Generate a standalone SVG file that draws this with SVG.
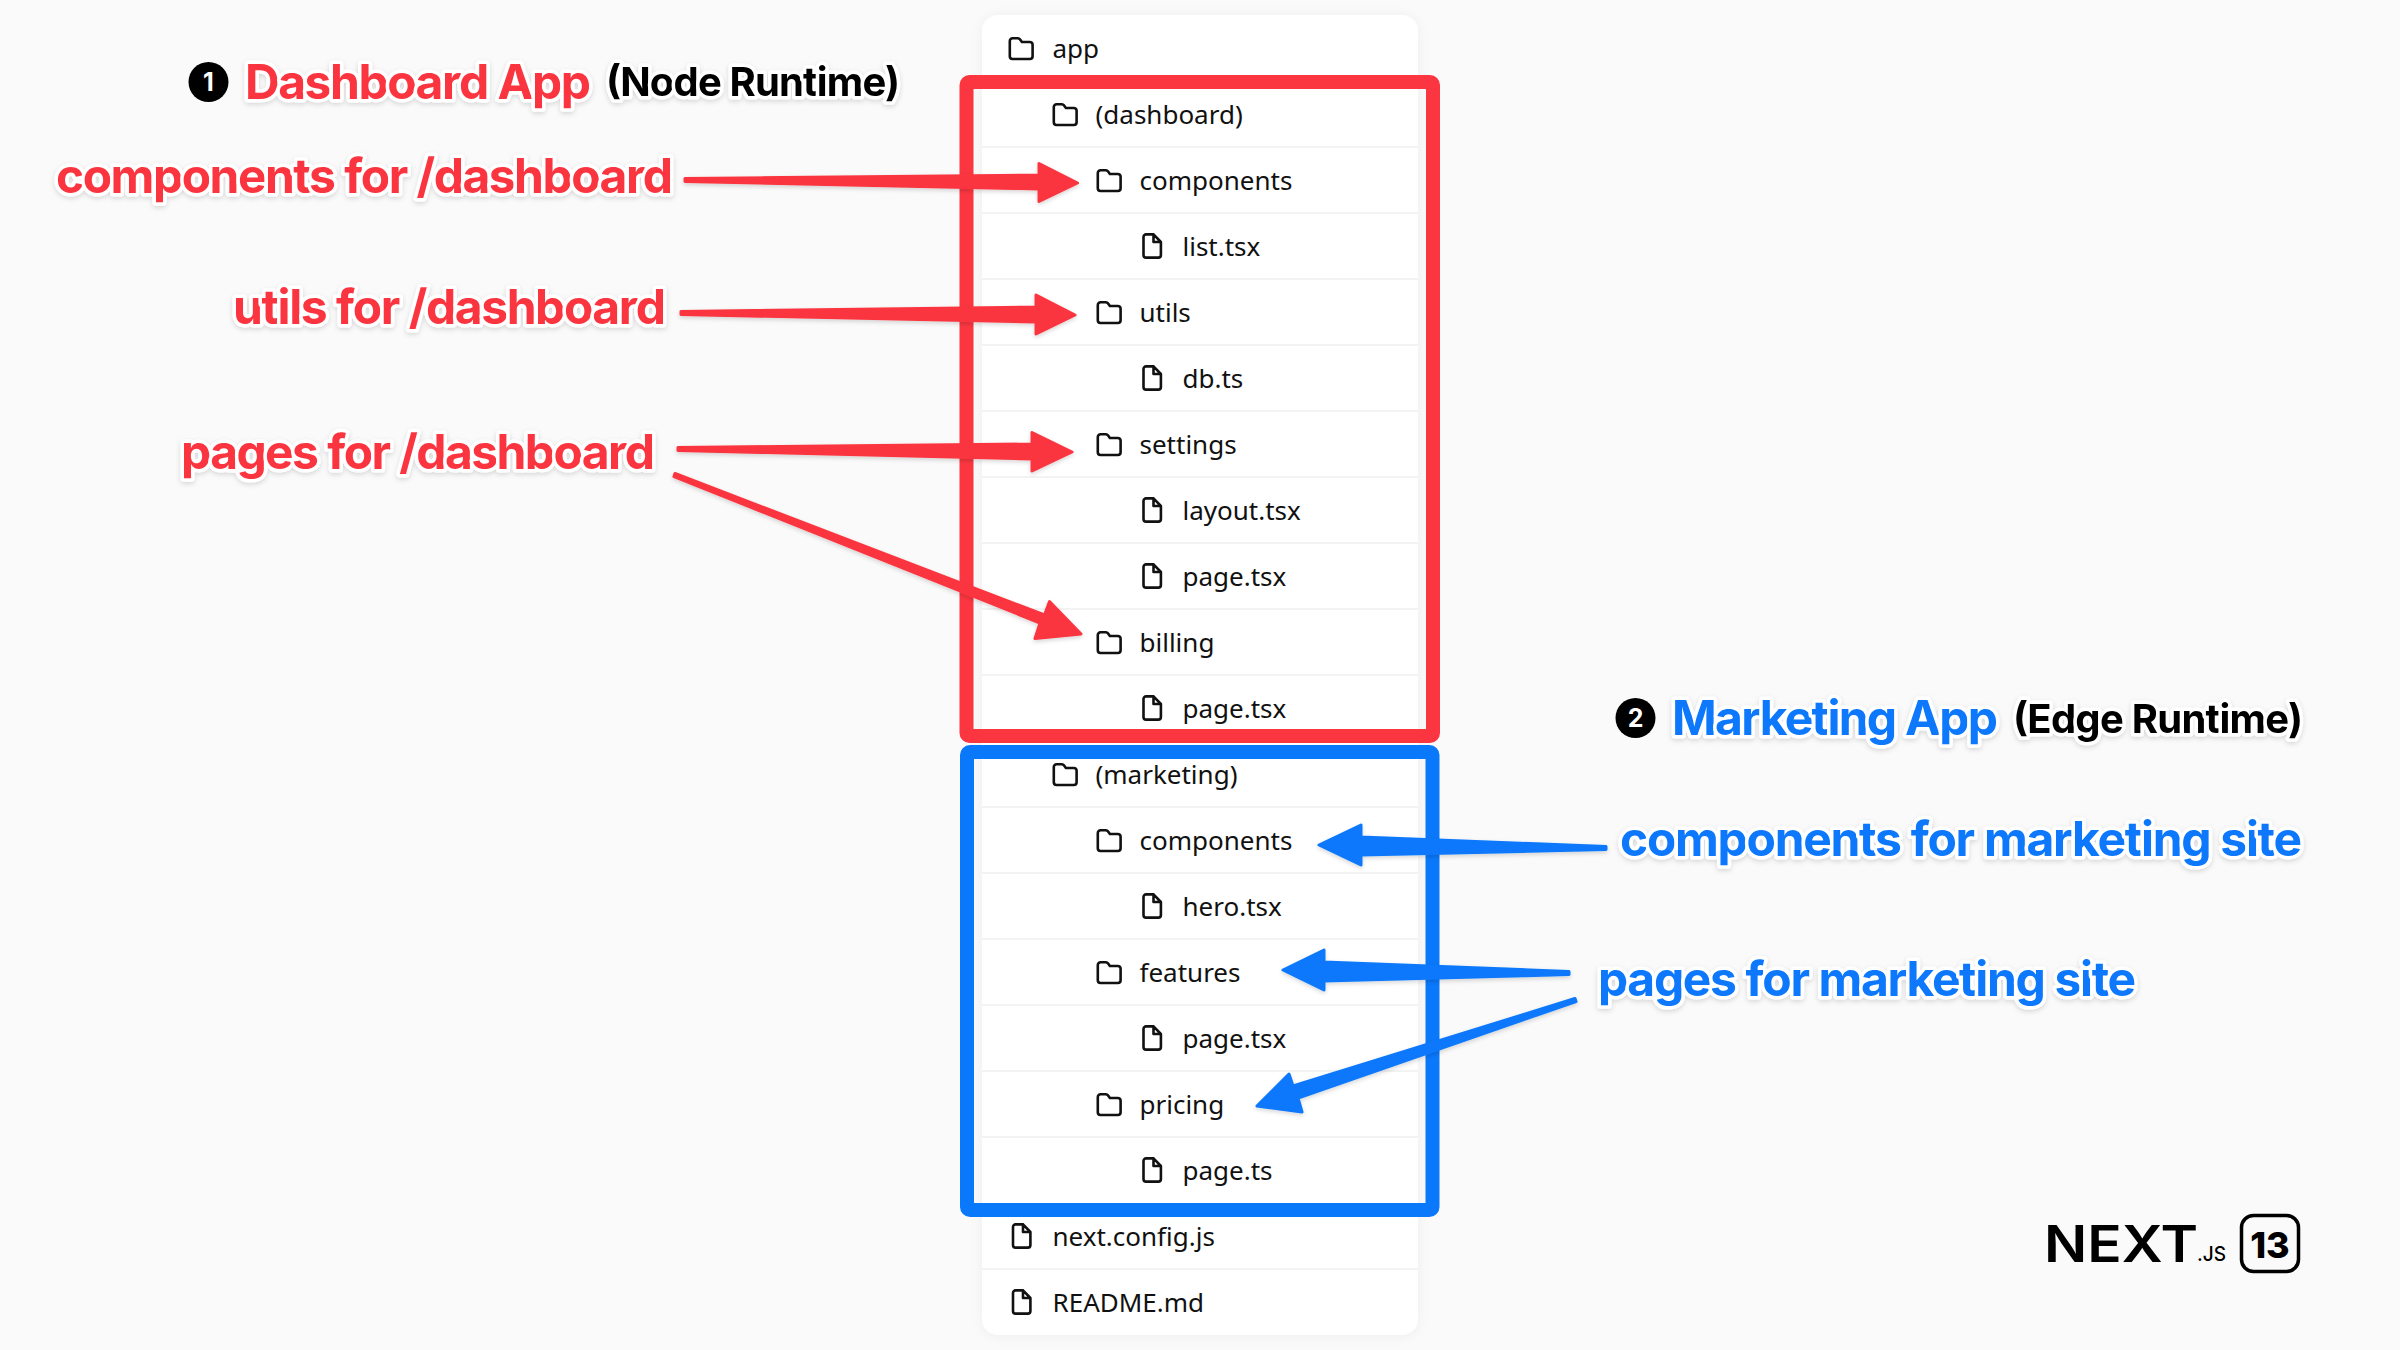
<svg xmlns="http://www.w3.org/2000/svg" width="2400" height="1350" viewBox="0 0 2400 1350">
<style>
.row{font-family:"Noto Sans",sans-serif;font-size:26px;fill:#111}
.ic{fill:none;stroke:#111;stroke-width:2.6;stroke-linejoin:round;stroke-linecap:round}
.div{stroke:#efefef;stroke-width:1.5}
.lab{font-family:Inter,"Liberation Sans",sans-serif;font-weight:700;paint-order:stroke;stroke:#fff;stroke-width:7px;stroke-linejoin:round;filter:url(#ts)}
.big{font-size:48px}
.sub{font-size:40px;fill:#000;font-weight:700}
.red{fill:#fb3640}
.blue{fill:#0a78fb}
.ar{stroke-linejoin:round;stroke-width:3;filter:url(#as)}
.ar.red{stroke:#fb3640}
.ar.blue{stroke:#0a78fb}
.num{font-family:Inter,"Liberation Sans",sans-serif;font-weight:700;font-size:25px;fill:#fff;text-anchor:middle}
</style>
<defs>
<filter id="ts" x="-5%" y="-30%" width="110%" height="160%"><feDropShadow dx="0" dy="2" stdDeviation="2.500" flood-color="#000" flood-opacity="0.14"/></filter>
<filter id="as" x="-5%" y="-20%" width="110%" height="140%"><feDropShadow dx="0" dy="2" stdDeviation="2" flood-color="#000" flood-opacity="0.16"/></filter>
<filter id="ps" x="-5%" y="-5%" width="110%" height="110%"><feDropShadow dx="0" dy="1" stdDeviation="6" flood-color="#000" flood-opacity="0.05"/></filter>
<path id="folder" class="ic" d="M1.3 -7a2.7 2.7 0 0 1 2.7 -2.7h5.4a2.4 2.4 0 0 1 2 1l2 2.7h8a2.7 2.7 0 0 1 2.7 2.7v11.600a2.7 2.7 0 0 1 -2.7 2.7h-17.400a2.7 2.7 0 0 1 -2.7 -2.7z"/>
<path id="file" class="ic" d="M0 -9a2.6 2.6 0 0 1 2.6 -2.6h7.4l7.4 7.6v13a2.6 2.6 0 0 1 -2.6 2.6h-12.200a2.6 2.6 0 0 1 -2.6 -2.6zM10 -11.600v7.600h7.400"/>
</defs>
<rect width="2400" height="1350" fill="#fafafa"/>
<g id="panel">
<rect x="982" y="15" width="436" height="1320" rx="16" fill="#fff" filter="url(#ps)"/>
<path class="div" d="M982 147H1418M982 213H1418M982 279H1418M982 345H1418M982 411H1418M982 477H1418M982 543H1418M982 609H1418M982 675H1418M982 807H1418M982 873H1418M982 939H1418M982 1005H1418M982 1071H1418M982 1137H1418M982 1269H1418"/>
</g>
<g id="row-app"><use href="#folder" x="1008.500" y="48"/><text class="row" x="1052.500" y="57.500">app</text></g>
<g id="row-dashboard"><use href="#folder" x="1052.500" y="114"/><text class="row" x="1095.500" y="123.500">(dashboard)</text></g>
<g id="row-components-1"><use href="#folder" x="1096.500" y="180"/><text class="row" x="1139.500" y="189.500">components</text></g>
<g id="row-list"><use href="#file" x="1143.500" y="246"/><text class="row" x="1182.500" y="255.500">list.tsx</text></g>
<g id="row-utils"><use href="#folder" x="1096.500" y="312"/><text class="row" x="1139.500" y="321.500">utils</text></g>
<g id="row-db"><use href="#file" x="1143.500" y="378"/><text class="row" x="1182.500" y="387.500">db.ts</text></g>
<g id="row-settings"><use href="#folder" x="1096.500" y="444"/><text class="row" x="1139.500" y="453.500">settings</text></g>
<g id="row-layout"><use href="#file" x="1143.500" y="510"/><text class="row" x="1182.500" y="519.500">layout.tsx</text></g>
<g id="row-page-1"><use href="#file" x="1143.500" y="576"/><text class="row" x="1182.500" y="585.500">page.tsx</text></g>
<g id="row-billing"><use href="#folder" x="1096.500" y="642"/><text class="row" x="1139.500" y="651.500">billing</text></g>
<g id="row-page-2"><use href="#file" x="1143.500" y="708"/><text class="row" x="1182.500" y="717.500">page.tsx</text></g>
<g id="row-marketing"><use href="#folder" x="1052.500" y="774"/><text class="row" x="1095.500" y="783.500">(marketing)</text></g>
<g id="row-components-2"><use href="#folder" x="1096.500" y="840"/><text class="row" x="1139.500" y="849.500">components</text></g>
<g id="row-hero"><use href="#file" x="1143.500" y="906"/><text class="row" x="1182.500" y="915.500">hero.tsx</text></g>
<g id="row-features"><use href="#folder" x="1096.500" y="972"/><text class="row" x="1139.500" y="981.500">features</text></g>
<g id="row-page-3"><use href="#file" x="1143.500" y="1038"/><text class="row" x="1182.500" y="1047.500">page.tsx</text></g>
<g id="row-pricing"><use href="#folder" x="1096.500" y="1104"/><text class="row" x="1139.500" y="1113.500">pricing</text></g>
<g id="row-page-ts"><use href="#file" x="1143.500" y="1170"/><text class="row" x="1182.500" y="1179.500">page.ts</text></g>
<g id="row-next-config"><use href="#file" x="1013" y="1236"/><text class="row" x="1052.500" y="1245.500">next.config.js</text></g>
<g id="row-readme"><use href="#file" x="1013" y="1302"/><text class="row" x="1052.500" y="1311.500">README.md</text></g>

<g id="box-dashboard"><rect x="966.500" y="82" width="466.500" height="654" rx="3" fill="none" stroke="#fb3640" stroke-width="14"/></g>
<g id="box-marketing"><rect x="967" y="752" width="465.500" height="458" rx="3" fill="none" stroke="#0a78fb" stroke-width="14"/></g>

<g id="connectors">
<path class="ar red" d="M685 178.500L685 181.500L1039 189L1039 201.500L1077.500 183L1039 163.500L1039 175z"/>
<path class="ar red" d="M681 311.500L681 314.500L1036 322L1036 334L1075 315L1036 295L1036 307z"/>
<path class="ar red" d="M678 447.500L678 450.500L1032 459L1032 471L1072 452L1032 432.500L1032 444z"/>
<path class="ar red" d="M675 473.500L674 476.500L1040 623L1035 638.500L1081 634L1049.500 601.500L1044.500 615z"/>
<path class="ar blue" d="M1606 846.500L1606 849.500L1361 855L1361 865L1319 845L1361 825L1361 837z"/>
<path class="ar blue" d="M1569 971.500L1569 974.500L1324 981L1324 990L1283 970L1324 950L1324 962z"/>
<path class="ar blue" d="M1575 998.500L1576 1001.500L1298 1098L1302 1112L1257 1106L1289 1074L1293 1086z"/>
</g>

<g id="title-dashboard">
<circle cx="208.500" cy="82" r="20" fill="#000"/><text class="num" x="208.500" y="91">1</text>
<text class="lab big red" x="245" y="99" textLength="346" lengthAdjust="spacing">Dashboard App</text>
<text class="lab sub" x="606" y="96" textLength="294" lengthAdjust="spacing">(Node Runtime)</text>
</g>
<g id="label-components-dashboard"><text class="lab big red" x="56" y="193" textLength="617" lengthAdjust="spacing">components for /dashboard</text></g>
<g id="label-utils-dashboard"><text class="lab big red" x="233" y="324" textLength="433" lengthAdjust="spacing">utils for /dashboard</text></g>
<g id="label-pages-dashboard"><text class="lab big red" x="181" y="469" textLength="474" lengthAdjust="spacing">pages for /dashboard</text></g>
<g id="title-marketing">
<circle cx="1635.500" cy="718" r="20" fill="#000"/><text class="num" x="1635.500" y="727">2</text>
<text class="lab big blue" x="1672" y="735" textLength="326" lengthAdjust="spacing">Marketing App</text>
<text class="lab sub" x="2013" y="733" textLength="290" lengthAdjust="spacing">(Edge Runtime)</text>
</g>
<g id="label-components-marketing"><text class="lab big blue" x="1620" y="856" textLength="682" lengthAdjust="spacing">components for marketing site</text></g>
<g id="label-pages-marketing"><text class="lab big blue" x="1598" y="996" textLength="538" lengthAdjust="spacing">pages for marketing site</text></g>

<g id="logo">
<text x="2044" y="1262" font-family="Inter,'Liberation Sans',sans-serif" font-weight="600" font-size="51" fill="#000" textLength="154" lengthAdjust="spacingAndGlyphs">NEXT</text>
<text x="2197" y="1261" font-family="Inter,'Liberation Sans',sans-serif" font-weight="500" font-size="20" fill="#000" textLength="29" lengthAdjust="spacingAndGlyphs">.JS</text>
<rect x="2241.500" y="1215.500" width="57" height="56" rx="12" fill="none" stroke="#000" stroke-width="3.500"/>
<text x="2270" y="1258" font-family="Inter,'Liberation Sans',sans-serif" font-weight="800" font-size="36" fill="#000" text-anchor="middle">13</text>
</g>
</svg>
